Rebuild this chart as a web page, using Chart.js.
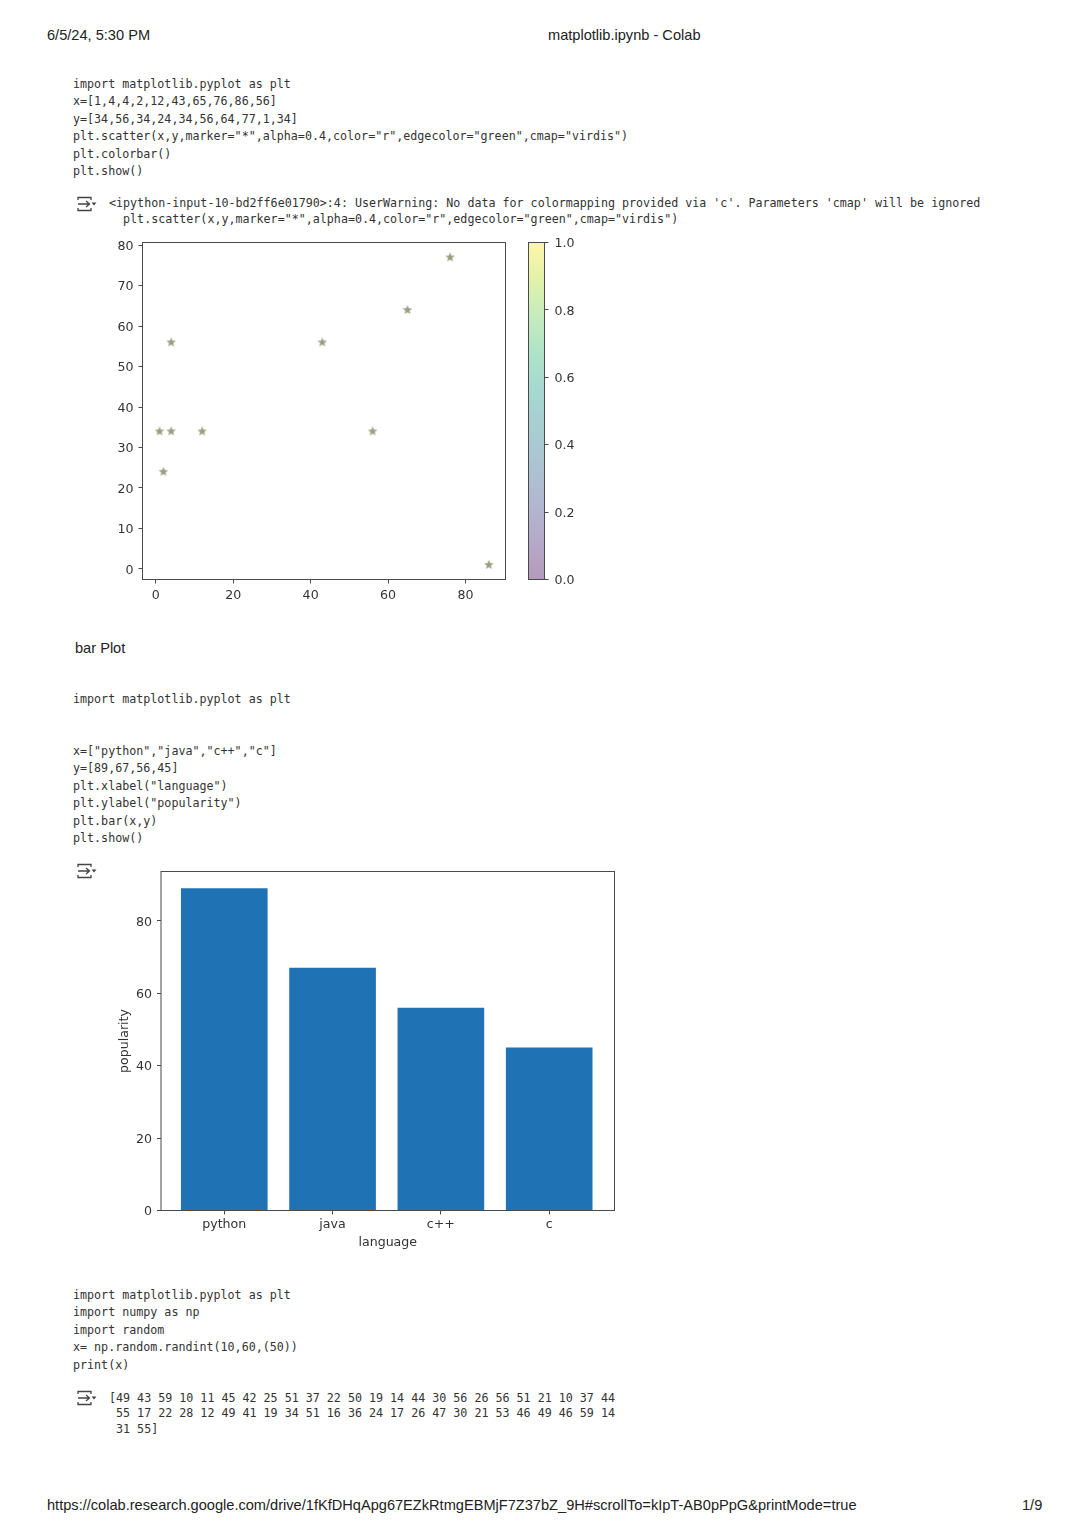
<!DOCTYPE html>
<html>
<head>
<meta charset="utf-8">
<title>matplotlib.ipynb - Colab</title>
<script src="https://cdn.jsdelivr.net/npm/chart.js@4"></script>
<style>
  body { margin: 0; background: #fff; width: 1086px; height: 1536px; position: relative; overflow: hidden; }
  canvas { position: absolute; }
  .head { position: absolute; font: 14.6px "Liberation Sans", sans-serif; color: #222; white-space: pre; line-height: 18px; }
  .code { position: absolute; left: 73px; font: 11.68px/17.4px "DejaVu Sans Mono", monospace; color: #333; white-space: pre; margin: 0; }
  .icon { position: absolute; left: 77px; width: 20px; height: 16px; }
</style>
</head>
<body>
<div class="head" style="left:47px;top:26px">6/5/24, 5:30 PM</div>
<div class="head" style="left:548px;top:26px">matplotlib.ipynb - Colab</div>

<pre class="code" style="top:76px">import matplotlib.pyplot as plt
x=[1,4,4,2,12,43,65,76,86,56]
y=[34,56,34,24,34,56,64,77,1,34]
plt.scatter(x,y,marker="*",alpha=0.4,color="r",edgecolor="green",cmap="virdis")
plt.colorbar()
plt.show()</pre>

<svg class="icon" style="top:196px" viewBox="0 0 20 16"><use href="#runIcon"/></svg>
<pre class="code" style="left:109px;top:195px;line-height:16px">&lt;ipython-input-10-bd2ff6e01790&gt;:4: UserWarning: No data for colormapping provided via 'c'. Parameters 'cmap' will be ignored
  plt.scatter(x,y,marker="*",alpha=0.4,color="r",edgecolor="green",cmap="virdis")</pre>

<canvas id="scatterChart" width="410" height="377" style="left:100px;top:232px"></canvas>
<canvas id="colorbarChart" width="68" height="358" style="left:518px;top:232px"></canvas>

<div class="head" style="left:75px;top:639px">bar Plot</div>

<pre class="code" style="top:691px">import matplotlib.pyplot as plt</pre>
<pre class="code" style="top:743px">x=["python","java","c++","c"]
y=[89,67,56,45]
plt.xlabel("language")
plt.ylabel("popularity")
plt.bar(x,y)
plt.show()</pre>

<svg class="icon" style="top:863px" viewBox="0 0 20 16"><use href="#runIcon"/></svg>
<canvas id="barChart" width="503" height="389" style="left:116.5px;top:861px"></canvas>

<pre class="code" style="top:1287px">import matplotlib.pyplot as plt
import numpy as np
import random
x= np.random.randint(10,60,(50))
print(x)</pre>

<svg class="icon" style="top:1390px" viewBox="0 0 20 16"><use href="#runIcon"/></svg>
<pre class="code" style="left:109px;top:1390.5px;line-height:15.5px">[49 43 59 10 11 45 42 25 51 37 22 50 19 14 44 30 56 26 56 51 21 10 37 44
 55 17 22 28 12 49 41 19 34 51 16 36 24 17 26 47 30 21 53 46 49 46 59 14
 31 55]</pre>

<div class="head" style="left:47px;top:1496px">https://colab.research.google.com/drive/1fKfDHqApg67EZkRtmgEBMjF7Z37bZ_9H#scrollTo=kIpT-AB0pPpG&amp;printMode=true</div>
<div class="head" style="left:1022px;top:1496px">1/9</div>

<svg width="0" height="0" style="position:absolute">
  <symbol id="runIcon" viewBox="0 0 20 16">
    <path d="M1 4V1.5H14V4M1 12V14.5H14V12M1 8H12M9 5L12.5 8L9 11" fill="none" stroke="#444" stroke-width="1.3"/>
    <path d="M14.5 6.5H19.5L17 9.5Z" fill="#444"/>
  </symbol>
</svg>

<script>
// scatter values
const scatterX = [1, 4, 4, 2, 12, 43, 65, 76, 86, 56];
const scatterY = [34, 56, 34, 24, 34, 56, 64, 77, 1, 34];

// colorbar
const colorbarRange = [0, 1];
const viridisStops = ["#440154", "#482878", "#3e4a89", "#31688e", "#26838f", "#1f9d8a", "#35b779", "#6cce5a", "#b5de2b", "#fde725"];

// bar plot
const languages = ["python", "java", "c++", "c"];
const popularity = [89, 67, 56, 45];

const tickColor = "#333";
const frameColor = "#4a4a4a";
const tickFont = { family: "DejaVu Sans", size: 12.6 };

Chart.defaults.animation = false;
Chart.defaults.responsive = false;
Chart.defaults.layout.autoPadding = false;
Chart.defaults.plugins.legend.display = false;
Chart.defaults.plugins.tooltip.enabled = false;

// matplotlib style box around the plot
const framePlugin = {
  id: "frame",
  afterDraw(chart) {
    const a = chart.chartArea;
    const c = chart.ctx;
    c.save();
    c.strokeStyle = frameColor;
    c.lineWidth = 1;
    c.strokeRect(a.left, a.top, a.right - a.left, a.bottom - a.top);
    c.restore();
  },
};

function tickGrid() {
  return { drawOnChartArea: false, drawTicks: true, tickLength: 4, color: frameColor };
}

// fixed axis size, and no extra room for the first and last tick label
function fitAxis(scale, size) {
  if (scale.isHorizontal()) {
    scale.height = size;
  } else {
    scale.width = size;
  }
  scale.paddingTop = 0;
  scale.paddingBottom = 0;
  scale.paddingLeft = 0;
  scale.paddingRight = 0;
}

// filled five point star, chart.js only has the asterisk one
function makeStar(size, color) {
  const cv = document.createElement("canvas");
  cv.width = size;
  cv.height = size;
  const c = cv.getContext("2d");
  c.beginPath();
  for (let i = 0; i < 10; i++) {
    const r = (i % 2 === 0 ? size / 2 : size / 4.6);
    const a = -Math.PI / 2 + (i * Math.PI) / 5;
    c.lineTo(size / 2 + r * Math.cos(a), size / 2 + r * Math.sin(a));
  }
  c.closePath();
  c.fillStyle = color;
  c.fill();
  return cv;
}

new Chart(document.getElementById("scatterChart"), {
  type: "scatter",
  data: {
    datasets: [
      {
        data: scatterX.map((x, i) => ({ x: x, y: scatterY[i] })),
        pointStyle: makeStar(10, "#9c9e80"),
      },
    ],
  },
  options: {
    layout: { padding: { top: 10.5, right: 4.5 } },
    scales: {
      x: {
        min: -3.4,
        max: 90.3,
        border: { display: false },
        grid: tickGrid(),
        ticks: { stepSize: 20, includeBounds: false, color: tickColor, font: tickFont, padding: 5, maxRotation: 0 },
        afterFit(scale) { fitAxis(scale, 29.5); },
      },
      y: {
        min: -2.62,
        max: 80.67,
        border: { display: false },
        grid: tickGrid(),
        ticks: { stepSize: 10, includeBounds: false, color: tickColor, font: tickFont, padding: 5, labelOffset: 1.5 },
        afterFit(scale) { fitAxis(scale, 42.5); },
      },
    },
  },
  plugins: [framePlugin],
});

new Chart(document.getElementById("colorbarChart"), {
  type: "bar",
  data: {
    labels: [""],
    datasets: [
      {
        data: [colorbarRange],
        barPercentage: 1,
        categoryPercentage: 1,
        backgroundColor(ctx) {
          const a = ctx.chart.chartArea;
          if (!a) return "#999";
          const g = ctx.chart.ctx.createLinearGradient(0, a.bottom, 0, a.top);
          viridisStops.forEach((col, i) => g.addColorStop(i / (viridisStops.length - 1), col + "66"));
          return g;
        },
      },
    ],
  },
  options: {
    layout: { padding: { top: 10.5, left: 10.5, bottom: 10.5 } },
    scales: {
      x: { display: false },
      y: {
        position: "right",
        min: colorbarRange[0],
        max: colorbarRange[1],
        border: { display: false },
        grid: tickGrid(),
        ticks: {
          stepSize: 0.2,
          color: tickColor,
          font: tickFont,
          padding: 6,
          labelOffset: 1.5,
          callback: (v) => v.toFixed(1),
        },
        afterFit(scale) { fitAxis(scale, 41.5); },
      },
    },
  },
  plugins: [framePlugin],
});

new Chart(document.getElementById("barChart"), {
  type: "bar",
  data: {
    datasets: [
      {
        data: popularity.map((v, i) => ({ x: i, y: v })),
        backgroundColor: "#1f72b4",
        barPercentage: 0.8,
        categoryPercentage: 1,
      },
    ],
  },
  options: {
    layout: { padding: { top: 10.5, right: 5.5 } },
    scales: {
      x: {
        type: "linear",
        offset: false,
        min: -0.584,
        max: 3.603,
        border: { display: false },
        grid: Object.assign(tickGrid(), { offset: false }),
        ticks: {
          stepSize: 1,
          includeBounds: false,
          color: tickColor,
          font: tickFont,
          padding: 3,
          maxRotation: 0,
          callback: (v) => languages[v],
        },
        title: { display: true, text: "language", color: tickColor, font: tickFont, padding: { top: 0, bottom: 0 } },
        afterFit(scale) { fitAxis(scale, 39.5); },
      },
      y: {
        min: 0,
        max: 93.6,
        border: { display: false },
        grid: tickGrid(),
        ticks: { stepSize: 20, includeBounds: false, color: tickColor, font: tickFont, padding: 5, labelOffset: 1.5 },
        title: { display: true, text: "popularity", color: tickColor, font: tickFont, padding: { top: 0, bottom: 0 } },
        afterFit(scale) { fitAxis(scale, 44); },
      },
    },
  },
  plugins: [framePlugin],
});
</script>
</body>
</html>
